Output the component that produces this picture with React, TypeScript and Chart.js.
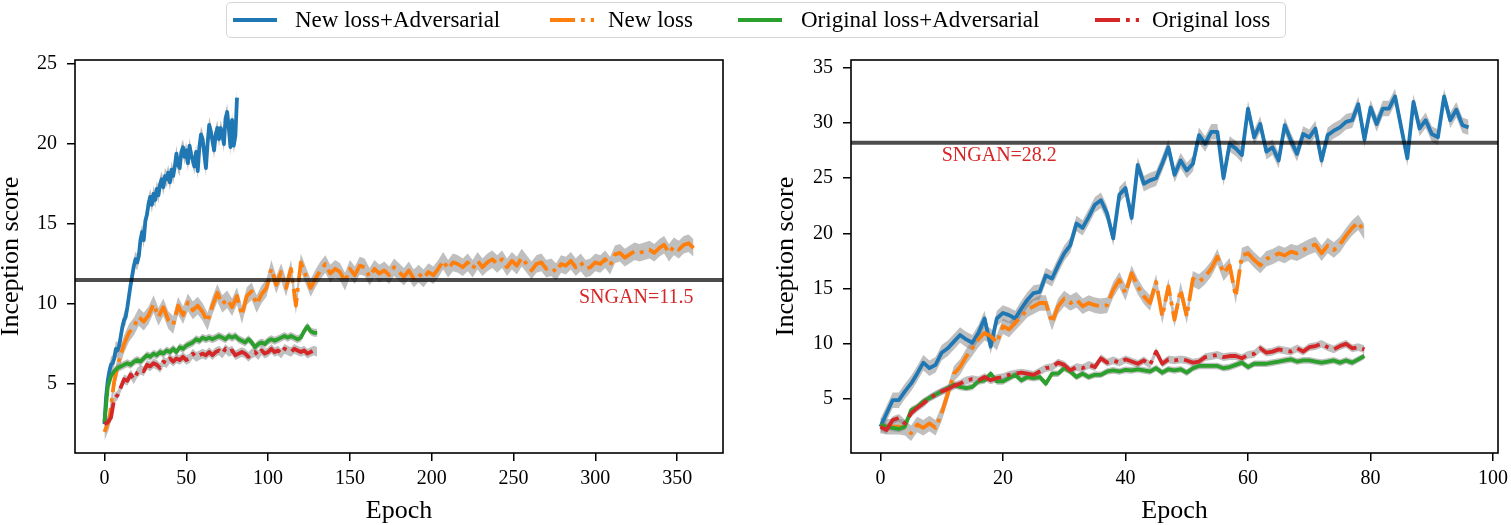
import React, { useEffect, useRef } from "react";
import { Chart, registerables } from "chart.js";

Chart.register(...registerables);

// ---------------- shared series info ----------------
const SERIES_NAMES = ["New loss+Adversarial", "New loss", "Original loss+Adversarial", "Original loss"];
const SERIES_COLORS = ["#1f77b4", "#ff7f0e", "#2ca02c", "#d62728"];
const SERIES_DASHED = [false, true, false, true];

// ---------------- left panel data ----------------
const LEFT_EPOCH_STEP = [1, 3, 2, 2];
const leftNewAdv = [
  2.5, 4.2, 5.2, 5.8, 6.2, 6.3, 6.6, 7.2, 7.1, 7.4,
  8.0, 8.6, 9.0, 9.2, 9.8, 10.5, 11.2, 11.8, 12.4, 12.8,
  12.6, 13.0, 14.0, 14.5, 14.0, 15.2, 15.6, 16.3, 16.7, 16.2,
  16.9, 16.5, 17.2, 16.8, 17.5, 17.8, 17.3, 18.0, 17.8, 18.2,
  17.6, 18.4, 18.0, 18.6, 19.4, 18.7, 18.5, 19.5, 19.8, 19.2,
  19.6, 18.8, 19.9, 19.3, 19.0, 18.6, 19.5, 18.3, 19.8, 20.6,
  20.3, 19.4, 18.5, 20.0, 21.2, 20.8, 20.2, 19.6, 20.6, 21.0,
  20.3, 21.0, 20.6, 20.0, 21.6, 22.0, 21.0, 19.8, 21.5, 19.9,
  20.5, 22.9,
];
const leftNewLoss = [
  2.0, 2.8, 5.2, 6.5, 7.5, 8.2, 8.6, 9.2, 8.9, 9.3,
  10.0, 9.2, 9.8, 9.0, 8.7, 9.9, 9.3, 10.1, 9.6, 9.9,
  9.5, 8.9, 9.9, 10.7, 10.0, 10.3, 9.8, 10.5, 9.3, 10.5,
  10.8, 10.0, 10.6, 11.0, 12.2, 11.2, 12.0, 11.0, 12.2, 9.9,
  12.6, 11.8, 11.0, 11.6, 12.1, 12.5, 11.9, 12.2, 12.0, 11.4,
  12.2, 11.8, 12.4, 12.3, 11.7, 12.2, 11.9, 12.1, 11.8, 12.3,
  12.0, 11.7, 12.1, 11.6, 11.9, 11.6, 12.0, 11.8, 12.2, 12.7,
  12.2, 12.6, 12.5, 12.3, 12.6, 12.2, 12.7, 12.3, 12.6, 12.8,
  12.5, 12.8, 12.3, 12.7, 12.4, 12.9, 12.5, 12.1, 12.5, 12.6,
  12.2, 12.3, 12.0, 12.5, 12.4, 12.7, 12.3, 12.6, 12.2, 12.3,
  12.6, 12.5, 12.8, 12.4, 13.1, 13.2, 12.9, 13.1, 13.3, 13.2,
  13.3, 13.4, 13.2, 13.5, 13.7, 13.2, 13.6, 13.4, 13.7, 13.8,
  13.5,
];
const leftOrigAdv = [
  2.6, 4.8, 5.5, 5.8, 6.0, 6.1, 6.2, 6.3, 6.2, 6.4,
  6.5, 6.4, 6.6, 6.8, 6.7, 6.9, 6.8, 7.0, 6.9, 7.1,
  7.0, 7.2, 7.0, 7.3, 7.2, 7.4, 7.5, 7.6, 7.8, 7.7,
  7.9, 7.8, 7.9, 7.8, 7.9, 8.0, 7.9, 7.8, 8.0, 7.9,
  8.0, 7.8, 7.7, 7.6, 7.8, 7.6, 7.3, 7.5, 7.6, 7.5,
  7.7, 7.8, 7.7, 7.8, 7.9, 8.0, 7.9, 8.0, 7.9, 7.8,
  7.9, 8.3, 8.6, 8.3, 8.2, 8.2,
];
const leftOrigLoss = [
  2.5, 2.6, 2.9, 4.1, 4.3, 4.8, 5.3, 5.2, 5.6, 5.3,
  5.7, 5.9, 5.8, 6.2, 6.1, 6.3, 6.2, 6.0, 6.4, 6.3,
  6.6, 6.4, 6.6, 6.5, 6.7, 6.5, 6.6, 6.9, 6.7, 6.8,
  6.9, 6.8, 7.0, 6.8, 7.0, 7.1, 6.9, 7.2, 7.0, 7.1,
  6.8, 6.9, 7.0, 6.9, 6.7, 6.9, 7.0, 6.8, 7.1, 6.9,
  7.0, 7.2, 7.0, 7.1, 6.9, 7.2, 7.1, 7.0, 7.2, 7.1,
  7.0, 7.1, 6.9, 7.0, 7.1, 7.0,
];
const LEFT_SPREAD = [0.5, 0.55, 0.25, 0.3];
const LEFT_X_TICKS = [0, 50, 100, 150, 200, 250, 300, 350];
const LEFT_Y_TICKS = [5, 10, 15, 20, 25];
const LEFT_X_RANGE = [-18, 378];
const LEFT_Y_RANGE = [0.69, 25.25];
const LEFT_SNGAN = 11.5;
const LEFT_SNGAN_LABEL = "SNGAN=11.5";
const LEFT_SNGAN_LABEL_AT = [290, 10.4];

// ---------------- right panel data ----------------
const RIGHT_EPOCH_STEP = [1, 1, 1, 1];
const rightNewAdv = [
  2.5, 3.7, 4.9, 4.9, 5.7, 6.4, 7.3, 8.3, 7.8, 8.1,
  9.2, 9.6, 10.2, 10.8, 10.4, 10.1, 11.0, 12.3, 9.75, 12.3,
  12.8, 12.6, 12.3, 13.2, 14.0, 14.6, 14.7, 16.2, 15.9, 17.1,
  18.2, 18.95, 20.9, 20.5, 21.5, 22.6, 23.0, 21.8, 19.55, 23.5,
  24.1, 21.4, 26.2, 24.5, 24.8, 25.0, 26.3, 27.8, 25.3, 26.6,
  25.7, 26.3, 28.9, 28.1, 29.2, 29.2, 25.0, 28.1, 27.7, 27.1,
  31.3, 28.7, 29.9, 27.4, 27.8, 26.6, 29.8, 28.4, 27.2, 29.0,
  28.7, 29.5, 26.6, 28.9, 29.3, 29.6, 30.1, 30.25, 31.7, 28.5,
  31.4, 29.9, 31.3, 31.3, 32.4, 29.6, 26.8, 31.9, 29.5, 30.25,
  29.0, 28.7, 32.4, 30.25, 31.2, 29.8, 29.6,
];
const rightNewLoss = [
  2.6, 2.5, 2.5, 2.5, 2.4, 1.9, 2.7, 2.4, 2.8, 2.4,
  3.7, 5.5, 7.3, 7.9, 8.85, 9.6, 10.4, 11.0, 10.7, 10.1,
  11.6, 11.3, 11.9, 12.5, 13.1, 13.4, 13.7, 13.7, 11.9, 13.4,
  14.1, 13.7, 14.0, 13.4, 13.7, 13.5, 13.4, 13.5, 14.9, 15.8,
  14.6, 16.4, 15.2, 14.3, 13.7, 15.6, 12.5, 15.2, 12.2, 14.9,
  12.5, 15.9, 15.6, 16.1, 16.8, 17.9, 16.4, 17.1, 14.3, 18.0,
  18.2, 17.6, 17.1, 17.7, 17.9, 18.2, 18.0, 18.35, 18.2, 18.5,
  18.8, 19.0, 18.2, 18.9, 18.5, 19.0, 19.8, 20.5, 21.0, 20.1,
];
const rightOrigAdv = [
  2.7, 2.5, 2.4, 2.3, 2.5, 4.0, 4.3, 4.8, 5.1, 5.4,
  5.7, 6.0, 6.3, 6.1, 6.0, 6.1, 6.6, 6.7, 7.3, 6.6,
  6.6, 6.9, 7.2, 6.7, 7.0, 6.9, 7.0, 6.4, 7.3, 7.3,
  7.8, 7.5, 7.0, 7.3, 7.0, 7.2, 7.2, 7.5, 7.6, 7.5,
  7.65, 7.6, 7.7, 7.6, 7.5, 7.8, 7.4, 7.7, 7.6, 7.7,
  7.4, 7.8, 8.0, 8.0, 8.0, 8.0, 7.8, 7.9, 8.1, 8.3,
  7.9, 8.2, 8.2, 8.2, 8.3, 8.4, 8.5, 8.6, 8.4, 8.5,
  8.5, 8.4, 8.3, 8.4, 8.5, 8.3, 8.5, 8.3, 8.6, 8.9,
];
const rightOrigLoss = [
  2.5, 2.2, 3.1, 3.3, 2.8, 3.7, 4.2, 4.6, 5.1, 5.4,
  5.7, 5.9, 6.2, 6.4, 6.7, 6.8, 6.7, 7.0, 6.7, 6.9,
  7.0, 7.2, 7.3, 7.4, 7.3, 7.2, 7.5, 7.8, 7.9, 8.3,
  8.1, 7.6, 7.9, 7.8, 8.1, 7.9, 8.7, 8.3, 8.5, 8.3,
  8.6, 8.4, 8.2, 8.5, 8.1, 9.3, 8.2, 8.6, 8.5, 8.6,
  8.5, 8.3, 8.4, 8.8, 8.9, 9.0, 8.8, 8.9, 8.9, 8.7,
  9.0, 9.1, 9.6, 9.2, 9.3, 9.5, 9.4, 9.3, 9.6, 9.3,
  9.7, 9.8, 10.0, 9.7, 9.5, 9.8, 10.0, 9.6, 9.7, 9.5,
];
const RIGHT_SPREAD = [0.7, 0.7, 0.3, 0.35];
const RIGHT_X_TICKS = [0, 20, 40, 60, 80, 100];
const RIGHT_Y_TICKS = [5, 10, 15, 20, 25, 30, 35];
const RIGHT_X_RANGE = [-4.8, 100.8];
const RIGHT_Y_RANGE = [0.12, 35.7];
const RIGHT_SNGAN = 28.2;
const RIGHT_SNGAN_LABEL = "SNGAN=28.2";
const RIGHT_SNGAN_LABEL_AT = [10, 27.0];

const X_TITLE = "Epoch";
const Y_TITLE = "Inception score";

// ---------------- styling ----------------
const FONT = '"Liberation Serif", "Times New Roman", serif';
const LINE_W = 3.8;
const DASH_DOT = [25, 6, 3.8, 6];
const BAND_COLOR = "rgba(128,128,128,0.5)";
const PAGE_H = 525;

type Panel = {
  series: number[][];
  steps: number[];
  spread: number[];
  xTicks: number[];
  yTicks: number[];
  xRange: number[];
  yRange: number[];
  sngan: number;
  label: string;
  labelAt: number[];
  yAxisWidth: number;
  padRight: number;
};

const LEFT_PANEL: Panel = {
  series: [leftNewAdv, leftNewLoss, leftOrigAdv, leftOrigLoss],
  steps: LEFT_EPOCH_STEP,
  spread: LEFT_SPREAD,
  xTicks: LEFT_X_TICKS,
  yTicks: LEFT_Y_TICKS,
  xRange: LEFT_X_RANGE,
  yRange: LEFT_Y_RANGE,
  sngan: LEFT_SNGAN,
  label: LEFT_SNGAN_LABEL,
  labelAt: LEFT_SNGAN_LABEL_AT,
  yAxisWidth: 75,
  padRight: 17,
};

const RIGHT_PANEL: Panel = {
  series: [rightNewAdv, rightNewLoss, rightOrigAdv, rightOrigLoss],
  steps: RIGHT_EPOCH_STEP,
  spread: RIGHT_SPREAD,
  xTicks: RIGHT_X_TICKS,
  yTicks: RIGHT_Y_TICKS,
  xRange: RIGHT_X_RANGE,
  yRange: RIGHT_Y_RANGE,
  sngan: RIGHT_SNGAN,
  label: RIGHT_SNGAN_LABEL,
  labelAt: RIGHT_SNGAN_LABEL_AT,
  yAxisWidth: 76,
  padRight: 13,
};

const overlayPlugin = {
  id: "overlay",
  afterDatasetsDraw(chart: any, _args: any, opts: any) {
    const { ctx, chartArea: a, scales } = chart;
    const yv = scales.y.getPixelForValue(opts.sngan);
    ctx.save();
    ctx.beginPath();
    ctx.rect(a.left, a.top, a.right - a.left, a.bottom - a.top);
    ctx.clip();
    ctx.strokeStyle = "rgba(0,0,0,0.7)";
    ctx.lineWidth = 4;
    ctx.beginPath();
    ctx.moveTo(a.left, yv);
    ctx.lineTo(a.right, yv);
    ctx.stroke();
    ctx.restore();

    ctx.save();
    ctx.fillStyle = "#d62728";
    ctx.font = `20px ${FONT}`;
    ctx.textAlign = "left";
    ctx.textBaseline = "middle";
    ctx.fillText(
      opts.label,
      scales.x.getPixelForValue(opts.labelAt[0]),
      scales.y.getPixelForValue(opts.labelAt[1])
    );
    ctx.strokeStyle = "#000";
    ctx.lineWidth = 1.6;
    ctx.strokeRect(a.left, a.top, a.right - a.left, a.bottom - a.top);
    ctx.restore();
  },
};

function buildDatasets(p: Panel) {
  const lines: any[] = [];
  const bands: any[] = [];
  p.series.forEach((vals, s) => {
    const step = p.steps[s];
    lines.push({
      label: SERIES_NAMES[s],
      data: vals.map((v, i) => ({ x: i * step, y: v })),
      borderColor: SERIES_COLORS[s],
      backgroundColor: SERIES_COLORS[s],
      borderWidth: LINE_W,
      borderDash: SERIES_DASHED[s] ? DASH_DOT : [],
      borderJoinStyle: "round",
      borderCapStyle: "butt",
      pointRadius: 0,
      tension: 0,
      fill: false,
      order: 4 - s,
    });
  });
  p.series.forEach((vals, s) => {
    const step = p.steps[s];
    const sp = p.spread[s];
    bands.push({
      label: SERIES_NAMES[s] + " upper",
      data: vals.map((v, i) => ({ x: i * step, y: v + sp })),
      borderColor: "rgba(0,0,0,0)",
      borderWidth: 0,
      pointRadius: 0,
      tension: 0,
      fill: false,
      order: 10,
    });
    bands.push({
      label: SERIES_NAMES[s] + " lower",
      data: vals.map((v, i) => ({ x: i * step, y: v - sp })),
      borderColor: "rgba(0,0,0,0)",
      borderWidth: 0,
      pointRadius: 0,
      tension: 0,
      fill: "-1",
      backgroundColor: BAND_COLOR,
      order: 10,
    });
  });
  return [...lines, ...bands];
}

function makeChart(canvas: HTMLCanvasElement, p: Panel) {
  const axisCommon = {
    type: "linear" as const,
    border: { display: false },
    grid: {
      drawOnChartArea: false,
      drawTicks: true,
      tickLength: 8,
      color: "#000",
      tickColor: "#000",
      lineWidth: 1.5,
      tickWidth: 1.5,
    },
  };
  return new Chart(canvas, {
    type: "line",
    data: { datasets: buildDatasets(p) },
    plugins: [overlayPlugin],
    options: {
      responsive: false,
      animation: false,
      events: [],
      layout: { padding: { top: 60, right: p.padRight, bottom: 0, left: 0 } },
      plugins: {
        legend: { display: false },
        tooltip: { enabled: false },
        overlay: { sngan: p.sngan, label: p.label, labelAt: p.labelAt },
      } as any,
      scales: {
        x: {
          ...axisCommon,
          min: p.xRange[0],
          max: p.xRange[1],
          ticks: { color: "#000", font: { family: FONT, size: 20 }, padding: 6, maxRotation: 0, autoSkip: false },
          afterBuildTicks: (s: any) => {
            s.ticks = p.xTicks.map((v) => ({ value: v }));
          },
          afterFit: (s: any) => {
            s.height = PAGE_H - 453;
            s.paddingLeft = 0;
            s.paddingRight = 0;
          },
          title: {
            display: true,
            text: X_TITLE,
            color: "#000",
            font: { family: FONT, size: 26, lineHeight: 1.1 },
            padding: 0,
          },
        },
        y: {
          ...axisCommon,
          min: p.yRange[0],
          max: p.yRange[1],
          ticks: { color: "#000", font: { family: FONT, size: 20 }, padding: 10, autoSkip: false },
          afterBuildTicks: (s: any) => {
            s.ticks = p.yTicks.map((v) => ({ value: v }));
          },
          afterFit: (s: any) => {
            s.width = p.yAxisWidth;
            s.paddingTop = 0;
            s.paddingBottom = 0;
          },
          title: {
            display: true,
            text: Y_TITLE,
            color: "#000",
            font: { family: FONT, size: 26, lineHeight: 0.85 },
            padding: 0,
          },
        },
      },
    } as any,
  });
}

function LegendSample({ color, dashed }: { color: string; dashed: boolean }) {
  return (
    <svg width={44} height={10} style={{ display: "block" }}>
      <line
        x1={0}
        y1={5}
        x2={44}
        y2={5}
        stroke={color}
        strokeWidth={LINE_W}
        strokeDasharray={dashed ? DASH_DOT.join(" ") : undefined}
      />
    </svg>
  );
}

const LEGEND_SAMPLE_X = [233, 550, 738, 1095];
const LEGEND_TEXT_X = [295, 608, 801, 1152];

export default function App() {
  const leftRef = useRef<HTMLCanvasElement>(null);
  const rightRef = useRef<HTMLCanvasElement>(null);

  useEffect(() => {
    const charts: Chart[] = [];
    if (leftRef.current) charts.push(makeChart(leftRef.current, LEFT_PANEL));
    if (rightRef.current) charts.push(makeChart(rightRef.current, RIGHT_PANEL));
    return () => {
      charts.forEach((c) => c.destroy());
    };
  }, []);

  return (
    <div
      style={{
        position: "fixed",
        left: 0,
        top: 0,
        width: 1511,
        height: PAGE_H,
        background: "#fff",
        overflow: "hidden",
        fontFamily: FONT,
      }}
    >
      <canvas
        ref={leftRef}
        width={740}
        height={PAGE_H}
        style={{ position: "absolute", left: 0, top: 0, width: 740, height: PAGE_H }}
      />
      <canvas
        ref={rightRef}
        width={736}
        height={PAGE_H}
        style={{ position: "absolute", left: 775, top: 0, width: 736, height: PAGE_H }}
      />
      <div
        style={{
          position: "absolute",
          left: 226,
          top: 2,
          width: 1060,
          height: 36,
          boxSizing: "border-box",
          border: "1.5px solid #d6d6d6",
          borderRadius: 5,
          background: "rgba(255,255,255,0.9)",
          zIndex: 2,
        }}
      />
      {SERIES_NAMES.map((name, i) => (
        <React.Fragment key={name}>
          <div style={{ position: "absolute", left: LEGEND_SAMPLE_X[i], top: 15, zIndex: 3 }}>
            <LegendSample color={SERIES_COLORS[i]} dashed={SERIES_DASHED[i]} />
          </div>
          <div
            style={{
              position: "absolute",
              left: LEGEND_TEXT_X[i],
              top: 6,
              lineHeight: "28px",
              fontSize: 23,
              color: "#000",
              whiteSpace: "nowrap",
              zIndex: 3,
            }}
          >
            {name}
          </div>
        </React.Fragment>
      ))}
    </div>
  );
}
